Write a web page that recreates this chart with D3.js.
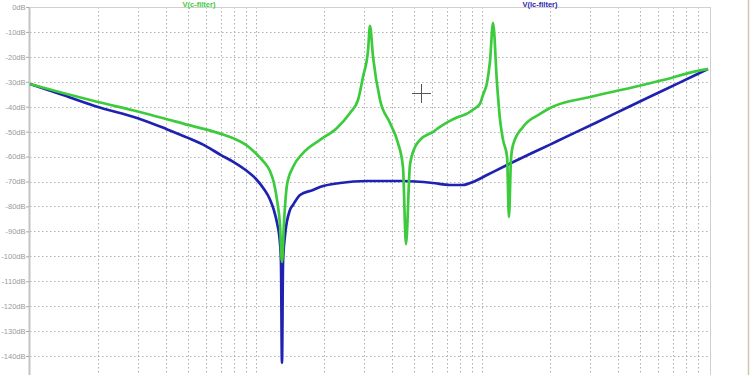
<!DOCTYPE html>
<html><head><meta charset="utf-8">
<script src="https://cdn.jsdelivr.net/npm/d3@7"></script>
<style>body{margin:0;background:#fff}svg{display:block}</style>
</head><body>
<svg id="c" width="750" height="375"></svg>
<script>
// Frequencies (Hz, log axis: 3 decades) and magnitudes (dB)
const greenFreq = [100,140,200,300,400,500,600,700,800,900,1000,1080,1153,1200,1239,1277,1303,1330,1371,1458,1614,1920,2282,2606,2827,2974,3133,3194,3296,3539,3917,4250,4470,4610,4800,5054,5320,6070,6518,7211,7745,8586,9120,9796,10100,10520,10850,11190,11650,12020,12390,12910,13160,13430,13710,15180,18060,20000,30060,45180,63240,89400,100000];
const greenDb   = [-30.9,-34.5,-38.1,-41.9,-44.9,-47.3,-49.1,-50.9,-52.8,-55.2,-58.8,-62.0,-65.8,-70.5,-77.4,-87.4,-102.3,-86.5,-71.4,-64.2,-58.6,-53.3,-48.5,-42.5,-37.3,-28.1,-17.2,-7.6,-20.1,-37.3,-46.5,-54.6,-64.2,-95.1,-63.4,-56.2,-53.3,-50.1,-48.1,-45.7,-44.3,-42.8,-41.2,-38.8,-35.3,-30.5,-21.7,-6.4,-30.5,-45.3,-53.3,-60.2,-84.2,-61.4,-55.4,-48.1,-42.9,-40.5,-36.1,-32.5,-29.3,-25.7,-24.9];

const blueFreq = [100,140,200,300,400,500,600,700,800,900,1000,1080,1153,1200,1239,1277,1290,1303,1317,1344,1414,1458,1566,1787,1920,2354,3098,4470,6070,7211,8237,9120,10520,12910,16820,20000,22810,32280,45180,63240,89400,100000];
const blueDb   = [-30.9,-35.3,-40.1,-44.6,-48.9,-52.5,-55.8,-59.4,-62.3,-65.4,-69.0,-72.8,-77.2,-81.5,-86.6,-94.7,-102.3,-142.8,-102.3,-91.5,-81.4,-79.4,-75.4,-73.4,-72.2,-70.6,-69.8,-69.8,-70.6,-71.4,-71.4,-70.2,-67.4,-63.4,-58.4,-55.2,-52.7,-46.2,-39.8,-33.5,-27.0,-24.9];

const yTicks = [0,-10,-20,-30,-40,-50,-60,-70,-80,-90,-100,-110,-120,-130,-140];
const seriesNames = ["V(c-filter)","V(lc-filter)"];
const seriesColors = ["#3ccb3c","#1f22b0"];

const svg = d3.select("#c");
const L = 30, R = 708, T = 7;
const x = d3.scaleLog().domain([100,100000]).range([L,R]);
const y = d3.scaleLinear().domain([0,-140]).range([T,356]);

// grid
const g = svg.append("g");
x.ticks().filter(t=>t>100 && t<100000).forEach(t=>{
  g.append("line").attr("x1",Math.round(x(t))+0.5).attr("x2",Math.round(x(t))+0.5)
   .attr("y1",T).attr("y2",375).attr("stroke","#b0b0b0").attr("stroke-dasharray","1.5,2.5");
});
yTicks.filter(t=>t<0).forEach(t=>{
  g.append("line").attr("x1",L).attr("x2",710).attr("y1",Math.round(y(t))+0.5).attr("y2",Math.round(y(t))+0.5)
   .attr("stroke","#b0b0b0").attr("stroke-dasharray","1.5,2.5");
});

// frame
svg.append("line").attr("x1",L-0.5).attr("x2",L-0.5).attr("y1",T).attr("y2",375).attr("stroke","#c4c4c4").attr("stroke-width",2);
svg.append("line").attr("x1",L).attr("x2",710).attr("y1",T+0.5).attr("y2",T+0.5).attr("stroke","#d0d0d0");
svg.append("line").attr("x1",710.5).attr("x2",710.5).attr("y1",T).attr("y2",375).attr("stroke","#d0d0d0");
svg.append("line").attr("x1",748.5).attr("x2",748.5).attr("y1",0).attr("y2",375).attr("stroke","#cfc6b4").attr("stroke-width",1.5);

// y axis labels
const ax = svg.append("g").attr("transform",`translate(${L-1},0)`)
  .call(d3.axisLeft(y).tickValues(yTicks).tickFormat(d=>d+"dB").tickSize(3).tickPadding(0.5));
ax.select(".domain").remove();
ax.selectAll("line").attr("stroke","#aaa");
ax.selectAll("text").attr("fill","#9a9a9a").attr("font-family","Liberation Sans, Arial, sans-serif").attr("font-size","7.5px");

// curves
const line = d3.line().x(d=>x(d[0])).y(d=>y(d[1])).curve(d3.curveMonotoneX);
const blueData = blueFreq.map((f,i)=>[f,blueDb[i]]);
const greenData = greenFreq.map((f,i)=>[f,greenDb[i]]);
svg.append("path").datum(blueData).attr("d",line).attr("fill","none")
  .attr("stroke",seriesColors[1]).attr("stroke-width",2.7).attr("stroke-linejoin","round");
svg.append("path").datum(greenData).attr("d",line).attr("fill","none")
  .attr("stroke",seriesColors[0]).attr("stroke-width",2.7).attr("stroke-linejoin","round");

// series labels
svg.append("text").attr("x",199).attr("y",7).attr("text-anchor","middle").attr("fill",seriesColors[0])
  .attr("font-family","Liberation Sans, Arial, sans-serif").attr("font-size","7.5px").attr("font-weight","bold").text(seriesNames[0]);
svg.append("text").attr("x",540).attr("y",7).attr("text-anchor","middle").attr("fill",seriesColors[1])
  .attr("font-family","Liberation Sans, Arial, sans-serif").attr("font-size","7.5px").attr("font-weight","bold").text(seriesNames[1]);

// cursor cross
svg.append("line").attr("x1",412).attr("x2",431).attr("y1",93.5).attr("y2",93.5).attr("stroke","#555");
svg.append("line").attr("x1",421.5).attr("x2",421.5).attr("y1",84).attr("y2",103).attr("stroke","#555");
</script>
</body></html>
